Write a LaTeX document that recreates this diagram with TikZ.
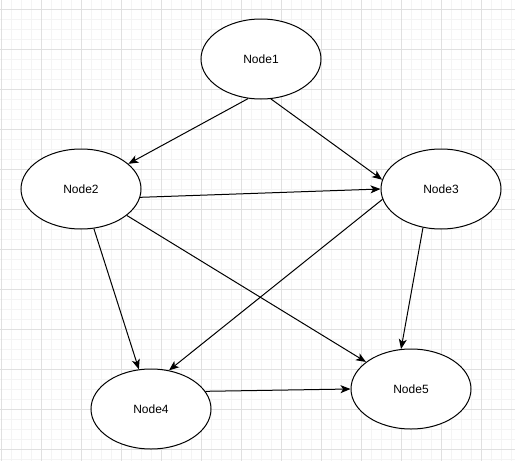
\documentclass[tikz,border=0pt]{standalone}
\usepackage{fontspec}
\setmainfont{Liberation Sans}
\usetikzlibrary{arrows.meta,shapes.geometric}
\definecolor{gridminor}{HTML}{F4F4F4}
\definecolor{gridmajor}{HTML}{E0E0E0}

\begin{document}
\begin{tikzpicture}
[x=.75pt,y=-.75pt,
state/.style={ellipse,draw=black,line width=.75pt,fill=white,minimum width=90pt,minimum height=60pt,inner sep=0pt,font=\fontsize{9}{11}\selectfont},
dedge/.style={line width=.75pt,>={Stealth[length=7.5pt,width=6pt,inset=2pt]},->},
minor/.style={gridminor,line width=.75pt},
major/.style={gridmajor,line width=.75pt}]
%%
% grid
%%
\useasboundingbox[fill=white] (0,0) rectangle (515,461);
\foreach \i in {1.5,11.5,...,511.5} \draw[minor] (\i,0) -- (\i,461);
\foreach \j in {9.5,19.5,...,459.5} \draw[minor] (0,\j) -- (515,\j);
\foreach \i in {1.5,41.5,...,511.5} \draw[major] (\i,0) -- (\i,461);
\foreach \j in {9.5,49.5,...,459.5} \draw[major] (0,\j) -- (515,\j);
%%
% nodes
%%
\node[state] (n1) at (261,59) {Node1};
\node[state] (n2) at (81,189) {Node2};
\node[state] (n3) at (441,189) {Node3};
\node[state] (n4) at (151,409) {Node4};
\node[state] (n5) at (411,389) {Node5};
%%
% edges
%%
\draw[dedge] (n1.252) -- (n2.28);
\draw[dedge] (n1.284) -- (n3.171);
\draw[dedge] (n2.352) -- (n3.180);
\draw[dedge] (n2.288) -- (n4.107);
\draw[dedge] (n2.330) -- (n5.149);
\draw[dedge] (n3.190) -- (n4.65);
\draw[dedge] (n3.245) -- (n5.104);
\draw[dedge] (n4.18) -- (n5.180);
\end{tikzpicture}
\end{document}
